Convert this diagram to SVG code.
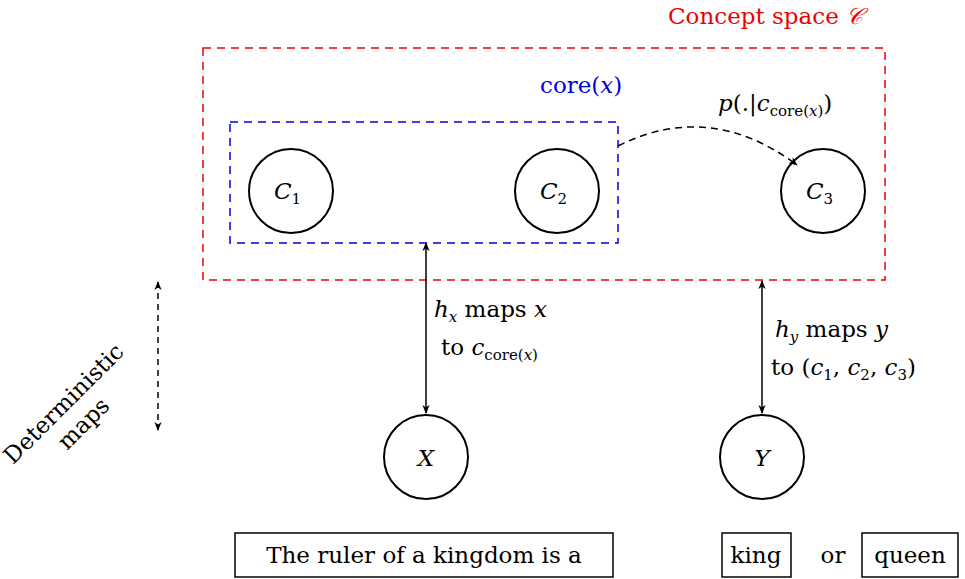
<svg xmlns="http://www.w3.org/2000/svg" width="965" height="579" viewBox="0 0 965 579">
<defs>
<marker id="ah" viewBox="0 0 10 10" refX="9" refY="5" markerWidth="9" markerHeight="9" orient="auto-start-reverse" markerUnits="userSpaceOnUse"><path d="M0,1 L10,5 L0,9 L3,5 Z" fill="#000"/></marker>
</defs>
<style>
text{font-family:"DejaVu Serif","Liberation Serif",serif;font-size:23px;fill:#000}
.it{font-style:italic}
.node{fill:#fff;stroke:#000;stroke-width:2}
.box{fill:#fff;stroke:#000;stroke-width:1.5}
.ln{fill:none;stroke:#000;stroke-width:1.5}
.sub{font-size:15px}
</style>
<rect width="965" height="579" fill="#fff"/>
<g id="concept-space">
<rect x="203" y="48" width="682" height="232" fill="none" stroke="#e00" stroke-width="1.5" stroke-dasharray="8,6"/>
<text x="668" y="24" style="fill:#e00">Concept space <tspan class="it">𝒞</tspan></text>
</g>
<g id="core">
<rect x="230" y="122" width="388" height="121" fill="none" stroke="#00d" stroke-width="1.5" stroke-dasharray="8,6"/>
<text x="540" y="93" style="fill:#00d">core(<tspan class="it">x</tspan>)</text>
</g>
<g id="C1"><circle class="node" cx="291" cy="191" r="42"/><text x="274" y="199" class="it">C<tspan class="sub" dy="5" style="font-style:normal">1</tspan></text></g>
<g id="C2"><circle class="node" cx="557" cy="191" r="42"/><text x="540" y="199" class="it">C<tspan class="sub" dy="5" style="font-style:normal">2</tspan></text></g>
<g id="C3"><circle class="node" cx="823" cy="191" r="42"/><text x="806" y="199" class="it">C<tspan class="sub" dy="5" style="font-style:normal">3</tspan></text></g>
<g id="X"><circle class="node" cx="426" cy="457" r="42"/><text x="426" y="466" class="it" text-anchor="middle">X</text></g>
<g id="Y"><circle class="node" cx="762" cy="457" r="42"/><text x="762" y="466" class="it" text-anchor="middle">Y</text></g>
<g id="connectors">
<path class="ln" d="M618,146 Q710,100 797,165" stroke-dasharray="7,5" marker-end="url(#ah)"/>
<line class="ln" x1="426" y1="243" x2="426" y2="413" marker-start="url(#ah)" marker-end="url(#ah)"/>
<line class="ln" x1="762" y1="281" x2="762" y2="413" marker-start="url(#ah)" marker-end="url(#ah)"/>
<line class="ln" x1="158" y1="282" x2="158" y2="430" stroke-dasharray="6,5" marker-start="url(#ah)" marker-end="url(#ah)"/>
</g>
<g id="labels">
<text x="718" y="111"><tspan class="it">p</tspan>(.|<tspan class="it">c</tspan><tspan class="sub" dy="5">core(<tspan class="it">x</tspan>)</tspan><tspan dy="-5">)</tspan></text>
<text x="434" y="317"><tspan class="it">h</tspan><tspan class="sub it" dy="5">x</tspan><tspan dy="-5"> maps </tspan><tspan class="it">x</tspan></text>
<text x="441" y="355">to <tspan class="it">c</tspan><tspan class="sub" dy="5">core(<tspan class="it">x</tspan>)</tspan></text>
<text x="775" y="337"><tspan class="it">h</tspan><tspan class="sub it" dy="5">y</tspan><tspan dy="-5"> maps </tspan><tspan class="it">y</tspan></text>
<text x="771" y="375">to (<tspan class="it">c</tspan><tspan class="sub" dy="5">1</tspan><tspan dy="-5">, </tspan><tspan class="it">c</tspan><tspan class="sub" dy="5">2</tspan><tspan dy="-5">, </tspan><tspan class="it">c</tspan><tspan class="sub" dy="5">3</tspan><tspan dy="-5">)</tspan></text>
<g transform="translate(72,412) rotate(-45)">
<text x="0" y="-4" text-anchor="middle">Deterministic</text>
<text x="0" y="24" text-anchor="middle">maps</text>
</g>
</g>
<g id="sentence">
<rect class="box" x="235" y="533" width="378" height="44"/>
<text x="424" y="563" text-anchor="middle">The ruler of a kingdom is a</text>
<rect class="box" x="722" y="533" width="69" height="44"/>
<text x="756" y="563" text-anchor="middle">king</text>
<text x="833" y="563" text-anchor="middle">or</text>
<rect class="box" x="862" y="533" width="96" height="44"/>
<text x="910" y="563" text-anchor="middle">queen</text>
</g>
</svg>
